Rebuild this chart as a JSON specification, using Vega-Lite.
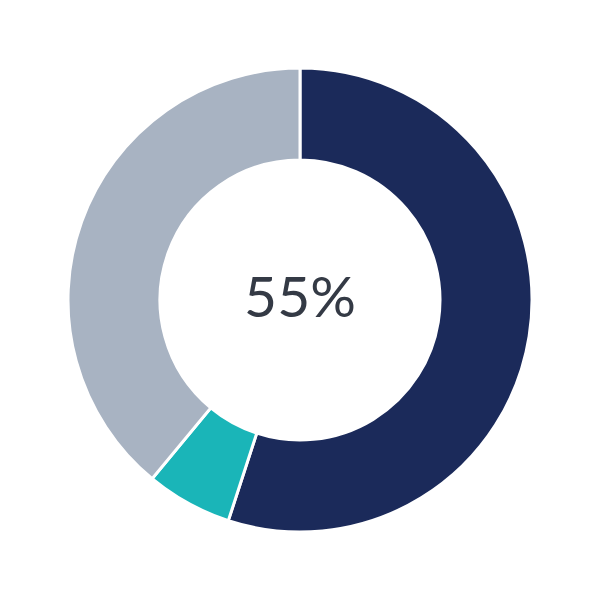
{
  "$schema": "https://vega.github.io/schema/vega-lite/v6.json",
  "background": "white",
  "width": 600,
  "height": 600,
  "autosize": {"type": "fit", "contains": "padding"},
  "padding": 0,
  "view": {"stroke": null},
  "data": {
    "values": [
      {"segment": "A", "share": 55, "order": 1},
      {"segment": "B", "share": 6, "order": 2},
      {"segment": "C", "share": 39, "order": 3}
    ]
  },
  "layer": [
    {
      "mark": {"type": "arc", "outerRadius": 232, "innerRadius": 140, "stroke": "white", "strokeWidth": 3},
      "encoding": {
        "theta": {"field": "share", "type": "quantitative", "stack": true},
        "order": {"field": "order", "type": "quantitative"},
        "color": {
          "field": "segment",
          "type": "nominal",
          "legend": null,
          "scale": {"domain": ["A", "B", "C"], "range": ["#1b2a5a", "#1ab5b8", "#a8b3c2"]}
        }
      }
    },
    {
      "data": {"values": [{"label": "55%"}]},
      "mark": {"type": "text", "font": "Lato", "fontSize": 57, "color": "#343a45", "baseline": "middle", "align": "center"},
      "encoding": {"text": {"field": "label"}}
    }
  ]
}
